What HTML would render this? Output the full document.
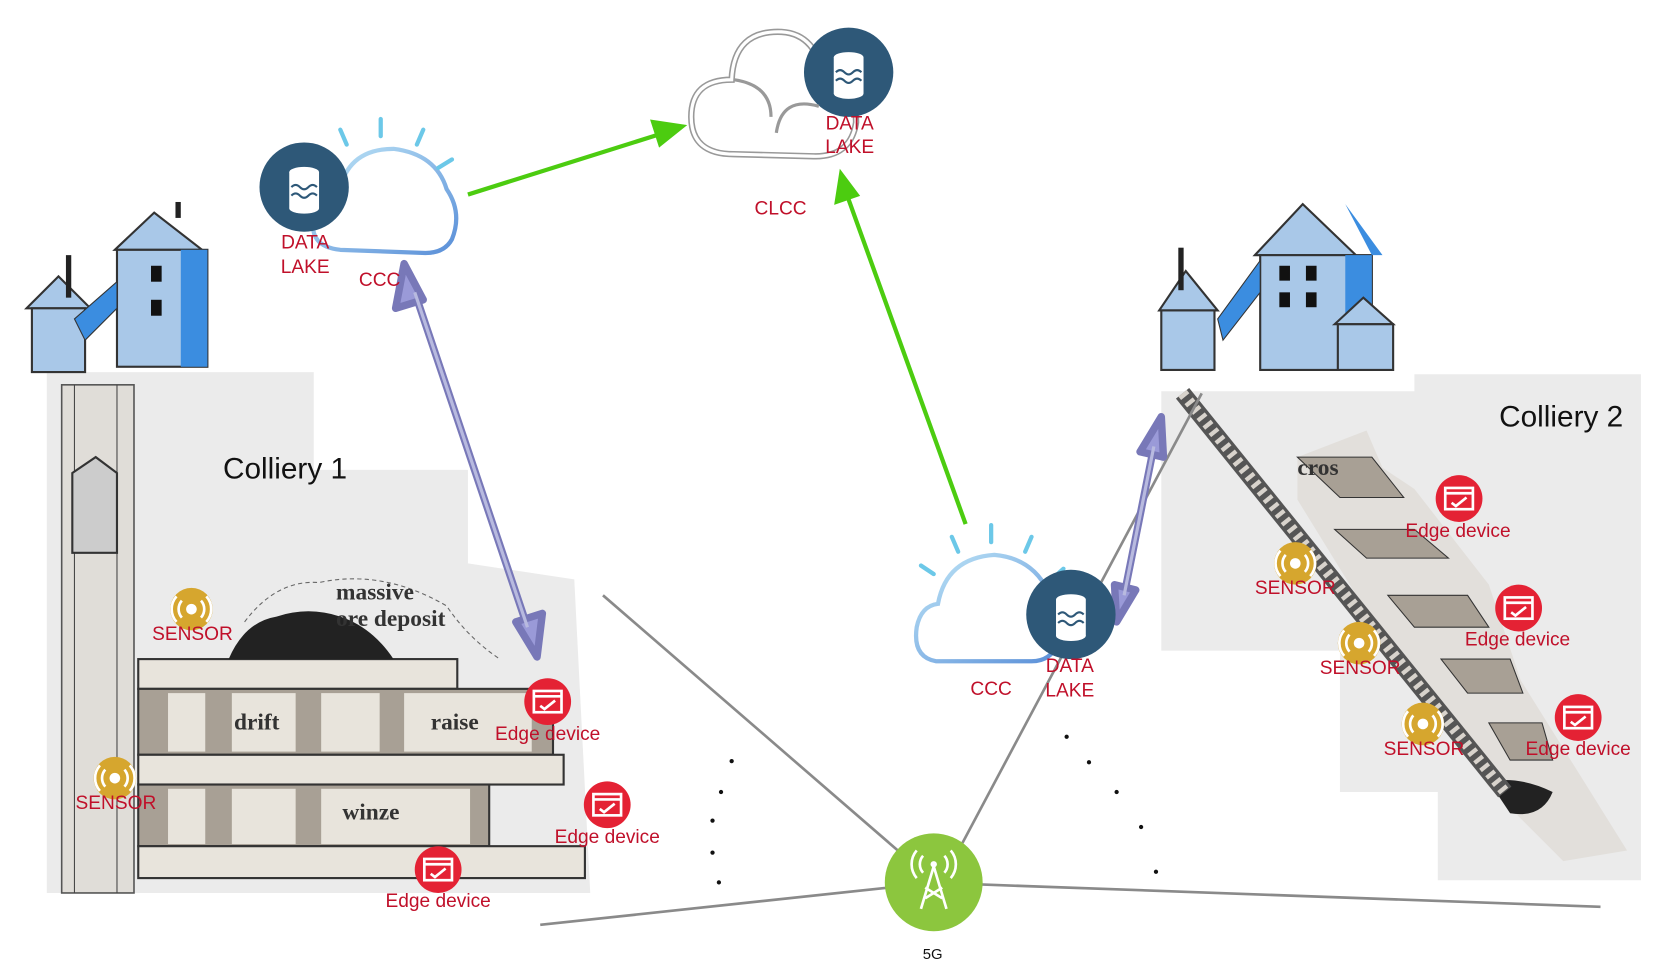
<!DOCTYPE html>
<html><head><meta charset="utf-8"><style>
html,body{margin:0;padding:0;background:#fff;overflow:hidden}
svg{display:block}
text{font-family:"Liberation Sans",sans-serif}
.r{fill:#c0102a;font-size:18px;text-anchor:middle}
.s{font-family:"Liberation Serif",serif;font-weight:bold;fill:#333;font-size:22px}
</style></head><body>
<svg width="1659" height="961" viewBox="0 0 1560 904" preserveAspectRatio="none">
<defs>
<linearGradient id="cg" x1="0" y1="0" x2="1" y2="1"><stop offset="0" stop-color="#bfe6f7"/><stop offset="1" stop-color="#5a8fd8"/></linearGradient>
<g id="sensor"><circle r="20" fill="#d6a62e"/><circle r="5" fill="#fff"/><path d="M-9,-8 A12,12 0 0 0 -9,8 M9,-8 A12,12 0 0 1 9,8 M-14,-12 A18,18 0 0 0 -14,12 M14,-12 A18,18 0 0 1 14,12" stroke="#fff" stroke-width="2.5" fill="none"/></g>
<g id="edge"><circle r="22" fill="#e42234"/><rect x="-13" y="-10" width="26" height="20" fill="none" stroke="#fff" stroke-width="2.5"/><line x1="-13" y1="-5" x2="13" y2="-5" stroke="#fff" stroke-width="2.5"/><path d="M-7,4 L-3,7 L7,-1" stroke="#fff" stroke-width="2.5" fill="none"/></g>
<g id="lake"><circle r="42" fill="#2e5878"/><ellipse cx="0" cy="-14" rx="14" ry="5" fill="#fff"/><rect x="-14" y="-14" width="28" height="34" fill="#fff"/><ellipse cx="0" cy="20" rx="14" ry="5" fill="#fff"/><path d="M-12,0 q4,-4 8,0 t8,0 t8,0 M-12,8 q4,-4 8,0 t8,0 t8,0" stroke="#2e5878" stroke-width="2" fill="none"/></g>
<g id="house"><polygon points="0,0 30,-30 60,0" fill="#a9c8e8" stroke="#333" stroke-width="2"/><rect x="5" y="0" width="50" height="60" fill="#a9c8e8" stroke="#333" stroke-width="2"/></g>
</defs>

<polygon points="44,350 295,350 295,442 440,442 440,530 540,545 555,840 44,840" fill="#ebebeb"/>
<rect x="58" y="362" width="68" height="478" fill="#e0ddd8" stroke="#555" stroke-width="1.5"/>
<line x1="70" y1="362" x2="70" y2="840" stroke="#444"/><line x1="110" y1="362" x2="110" y2="840" stroke="#444"/>
<polygon points="68,445 90,430 110,445 110,520 68,520" fill="#ccc" stroke="#333" stroke-width="2"/>
<rect x="130" y="620" width="300" height="28" fill="#e8e4dc" stroke="#333" stroke-width="2"/>
<rect x="130" y="648" width="390" height="62" fill="#a8a095" stroke="#333" stroke-width="2"/>
<rect x="158" y="652" width="35" height="55" fill="#e8e4dc"/><rect x="218" y="652" width="60" height="55" fill="#e8e4dc"/><rect x="302" y="652" width="55" height="55" fill="#e8e4dc"/><rect x="380" y="652" width="120" height="55" fill="#e8e4dc"/>
<rect x="130" y="710" width="400" height="28" fill="#e8e4dc" stroke="#333" stroke-width="2"/>
<rect x="130" y="738" width="330" height="58" fill="#a8a095" stroke="#333" stroke-width="2"/>
<rect x="158" y="742" width="35" height="52" fill="#e8e4dc"/><rect x="218" y="742" width="60" height="52" fill="#e8e4dc"/><rect x="302" y="742" width="140" height="52" fill="#e8e4dc"/>
<rect x="130" y="796" width="420" height="30" fill="#e8e4dc" stroke="#333" stroke-width="2"/>
<path d="M215,620 Q230,585 260,580 Q290,570 320,580 Q350,590 370,620 Z" fill="#222"/>
<path d="M230,585 Q260,545 300,548 Q360,535 420,570 Q440,600 470,620" stroke="#666" fill="none" stroke-dasharray="4 3"/>
<text class="s" x="316" y="564">massive</text><text class="s" x="316" y="589">ore deposit</text>
<text class="s" x="220" y="686">drift</text><text class="s" x="405" y="686">raise</text><text class="s" x="322" y="771">winze</text>
<use href="#house" x="25" y="290"/>
<polygon points="108,235 145,200 190,235" fill="#a9c8e8" stroke="#333" stroke-width="2"/>
<rect x="110" y="235" width="85" height="110" fill="#a9c8e8" stroke="#333" stroke-width="2"/>
<rect x="170" y="235" width="25" height="110" fill="#3b8de0"/>
<rect x="142" y="250" width="10" height="15" fill="#111"/><rect x="142" y="282" width="10" height="15" fill="#111"/>
<polygon points="70,300 110,265 110,290 80,320" fill="#3b8de0" stroke="#333"/>
<rect x="62" y="240" width="5" height="40" fill="#222"/><rect x="165" y="190" width="5" height="15" fill="#222"/>

<polygon points="1092,368 1330,368 1330,352 1543,352 1543,828 1352,828 1352,745 1260,745 1260,612 1092,612" fill="#ebebeb"/>
<polygon points="1285,405 1300,440 1330,460 1400,550 1430,640 1480,720 1530,800 1470,810 1400,740 1300,600 1220,470 1220,430" fill="#e2dfdb"/>
<polygon points="1220,430 1290,430 1320,468 1260,468" fill="#a8a095" stroke="#333"/>
<polygon points="1255,498 1330,498 1362,525 1285,525" fill="#a8a095" stroke="#333"/>
<polygon points="1305,560 1380,560 1400,590 1330,590" fill="#a8a095" stroke="#333"/>
<polygon points="1355,620 1420,620 1432,652 1380,652" fill="#a8a095" stroke="#333"/>
<polygon points="1400,680 1450,680 1460,715 1420,715" fill="#a8a095" stroke="#333"/>
<path d="M1400,735 Q1430,730 1460,745 Q1450,770 1420,765 Z" fill="#222"/>
<line x1="1112" y1="370" x2="1415" y2="745" stroke="#555" stroke-width="16"/>
<line x1="1112" y1="370" x2="1415" y2="745" stroke="#d8d3cc" stroke-width="10" stroke-dasharray="4 5"/>
<text class="s" x="1220" y="447">cros</text>
<polygon points="1180,240 1225,192 1275,240" fill="#a9c8e8" stroke="#333" stroke-width="2"/>
<rect x="1185" y="240" width="105" height="108" fill="#a9c8e8" stroke="#333" stroke-width="2"/>
<polygon points="1265,192 1300,240 1290,240" fill="#3b8de0"/>
<rect x="1265" y="240" width="25" height="108" fill="#3b8de0"/>
<rect x="1203" y="250" width="10" height="14" fill="#111"/><rect x="1228" y="250" width="10" height="14" fill="#111"/><rect x="1203" y="275" width="10" height="14" fill="#111"/><rect x="1228" y="275" width="10" height="14" fill="#111"/>
<polygon points="1255,305 1282,280 1310,305" fill="#a9c8e8" stroke="#333" stroke-width="2"/><rect x="1258" y="305" width="52" height="43" fill="#a9c8e8" stroke="#333" stroke-width="2"/>
<polygon points="1090,292 1115,255 1145,292" fill="#a9c8e8" stroke="#333" stroke-width="2"/><rect x="1092" y="292" width="50" height="56" fill="#a9c8e8" stroke="#333" stroke-width="2"/>
<polygon points="1145,300 1185,245 1185,275 1150,320" fill="#3b8de0" stroke="#333"/>
<rect x="1108" y="233" width="5" height="40" fill="#222"/>

<g stroke="#8a8a8a" stroke-width="2.5" fill="none">
<line x1="567" y1="560" x2="850" y2="805"/>
<line x1="905" y1="793" x2="1130" y2="370"/>
<line x1="508" y1="870" x2="835" y2="835"/>
<line x1="922" y1="832" x2="1505" y2="853"/>
</g>
<g fill="#111">
<circle cx="688" cy="716" r="2"/><circle cx="678" cy="745" r="2"/><circle cx="670" cy="772" r="2"/><circle cx="670" cy="802" r="2"/><circle cx="676" cy="830" r="2"/>
<circle cx="1003" cy="693" r="2"/><circle cx="1024" cy="717" r="2"/><circle cx="1050" cy="745" r="2"/><circle cx="1073" cy="778" r="2"/><circle cx="1087" cy="820" r="2"/>
</g>
<circle cx="878" cy="830" r="46" fill="#8cc63e"/>
<g stroke="#fff" stroke-width="2.5" fill="none"><path d="M878,815 L866,855 M878,815 L890,855 M870,835 L886,845 M886,835 L870,845"/><path d="M868,805 a12,12 0 0 0 0,16 M888,805 a12,12 0 0 1 0,16 M862,800 a20,20 0 0 0 0,26 M894,800 a20,20 0 0 1 0,26"/></g>
<circle cx="878" cy="813" r="3" fill="#fff"/>
<text x="877" y="902" font-size="14" text-anchor="middle" fill="#111">5G</text>

<g stroke="#7878b8" stroke-width="7" fill="#9a9ad8" stroke-linejoin="round">
<line x1="390" y1="275" x2="496" y2="590"/>
<polygon points="380,248 372,290 398,282"/><polygon points="505,618 485,585 510,577"/>
<line x1="1057" y1="560" x2="1085" y2="420"/>
<polygon points="1092,392 1072,425 1094,430"/><polygon points="1050,585 1048,550 1068,555"/>
</g>
<g stroke="#b8badf" stroke-width="3"><line x1="390" y1="275" x2="496" y2="590"/><line x1="1057" y1="560" x2="1085" y2="420"/></g>

<g stroke="#4ccc10" stroke-width="4" fill="#4ccc10">
<line x1="440" y1="183" x2="618" y2="127"/><polygon points="645,118 612,113 620,138" stroke-width="1"/>
<line x1="908" y1="493" x2="797" y2="185"/><polygon points="790,160 785,192 808,184" stroke-width="1"/>
</g>

<path d="M320,235 Q290,232 295,205 Q300,185 318,185 Q325,140 370,140 Q410,145 420,178 Q435,200 425,225 Q418,238 400,238 Z" fill="none" stroke="url(#cg)" stroke-width="4"/>
<g stroke="#6cc8e8" stroke-width="4" stroke-linecap="round"><line x1="358" y1="112" x2="358" y2="128"/><line x1="320" y1="122" x2="326" y2="136"/><line x1="398" y1="122" x2="392" y2="136"/><line x1="425" y1="150" x2="412" y2="158"/></g>
<use href="#lake" x="286" y="176"/>
<text class="r" x="287" y="234">DATA</text><text class="r" x="287" y="257">LAKE</text>
<text class="r" x="357" y="269">CCC</text>

<g fill="none" stroke="#999" stroke-width="6"><path d="M690,145 Q650,145 650,110 Q650,75 688,75 Q690,28 735,30 Q768,32 775,75 Q805,85 805,115 Q800,148 765,147 Z"/></g>
<g fill="none" stroke="#fff" stroke-width="3"><path d="M690,145 Q650,145 650,110 Q650,75 688,75 Q690,28 735,30 Q768,32 775,75 Q805,85 805,115 Q800,148 765,147 Z"/></g>
<use href="#lake" x="798" y="68"/>
<path d="M690,75 Q725,80 725,110" fill="none" stroke="#999" stroke-width="3"/>
<path d="M730,125 Q735,90 770,100" fill="none" stroke="#999" stroke-width="3"/>
<text class="r" x="799" y="122">DATA</text><text class="r" x="799" y="144">LAKE</text>
<text class="r" x="734" y="202">CLCC</text>

<path d="M880,622 Q858,618 862,590 Q866,570 882,568 Q890,525 935,522 Q970,525 985,555 Q1005,570 995,605 Q988,622 970,622 Z" fill="none" stroke="url(#cg)" stroke-width="4"/>
<g stroke="#6cc8e8" stroke-width="4" stroke-linecap="round"><line x1="932" y1="494" x2="932" y2="510"/><line x1="895" y1="505" x2="901" y2="519"/><line x1="970" y1="505" x2="964" y2="519"/><line x1="866" y1="532" x2="878" y2="540"/><line x1="1000" y1="535" x2="990" y2="544"/></g>
<use href="#lake" x="1007" y="578"/>
<text class="r" x="1006" y="632">DATA</text><text class="r" x="1006" y="655">LAKE</text>
<text class="r" x="932" y="654">CCC</text>

<use href="#sensor" x="180" y="573"/><text class="r" x="181" y="602">SENSOR</text>
<use href="#sensor" x="108" y="732"/><text class="r" x="109" y="761">SENSOR</text>
<use href="#sensor" x="1218" y="530"/><text class="r" x="1218" y="559">SENSOR</text>
<use href="#sensor" x="1278" y="605"/><text class="r" x="1279" y="634">SENSOR</text>
<use href="#sensor" x="1338" y="681"/><text class="r" x="1339" y="710">SENSOR</text>
<use href="#edge" x="515" y="660"/><text class="r" x="515" y="696">Edge device</text>
<use href="#edge" x="571" y="757"/><text class="r" x="571" y="793">Edge device</text>
<use href="#edge" x="412" y="818"/><text class="r" x="412" y="853">Edge device</text>
<use href="#edge" x="1372" y="469"/><text class="r" x="1371" y="505">Edge device</text>
<use href="#edge" x="1428" y="572"/><text class="r" x="1427" y="607">Edge device</text>
<use href="#edge" x="1484" y="675"/><text class="r" x="1484" y="710">Edge device</text>

<text x="268" y="450" font-size="28" text-anchor="middle" fill="#111">Colliery 1</text>
<text x="1468" y="401" font-size="28" text-anchor="middle" fill="#111">Colliery 2</text>
</svg>
</body></html>
